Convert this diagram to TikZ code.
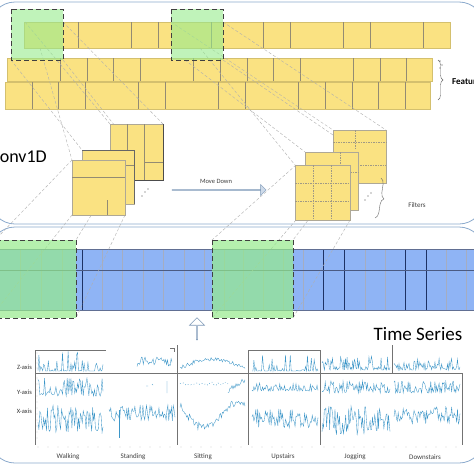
\documentclass[tikz,border=0pt]{standalone}
\usepackage{fontspec}
\setmainfont{Carlito}
\usetikzlibrary{shapes.arrows,decorations.pathreplacing}
\definecolor{cellyellow}{RGB}{250,226,130}
\definecolor{cellline}{RGB}{120,110,80}
\definecolor{boxgreen}{RGB}{150,235,140}
\definecolor{rowblue}{RGB}{143,180,245}
\definecolor{navy}{RGB}{30,50,100}
\definecolor{panel}{RGB}{140,170,205}
\definecolor{wave}{RGB}{60,150,200}
\definecolor{guide}{RGB}{175,175,175}
\begin{document}
\begin{tikzpicture}[x=1pt,y=-1pt,
  yrow/.style={fill=cellyellow,draw=cellyellow!85!black,line width=0.3pt},
  cellsep/.style={draw=cellline!80,line width=0.5pt},
  greenbox/.style={fill=boxgreen,fill opacity=0.6,draw=black!75,dash pattern=on 5pt off 3pt,line width=0.9pt},
  guideline/.style={draw=guide,dash pattern=on 3pt off 2pt,line width=0.4pt},
  panelline/.style={draw=panel,line width=0.8pt},
  wavestyle/.style={draw=wave,line width=0.35pt},
  filt/.style={fill=cellyellow,draw=cellline!60,line width=0.5pt},
  filtdash/.style={draw=cellline!70,dash pattern=on 1.5pt off 1pt,line width=0.4pt},
  frame/.style={draw=black!55,line width=0.5pt},
  smalltxt/.style={font=\fontsize{7}{8}\selectfont,text=black!75,inner sep=0pt},
  axtxt/.style={font=\fontsize{6.5}{7}\selectfont,text=black!80,inner sep=1pt}
]
\useasboundingbox (0,0) rectangle (474,474);
\clip (0,0) rectangle (474,474);
\fill[white] (0,0) rectangle (474,474);

% panels
\draw[panelline,rounded corners=25pt] (-10,2) rectangle (484,224);
\draw[panelline,rounded corners=25pt] (-10,227) rectangle (484,463);

% top feature rows
\filldraw[yrow] (24,22) rectangle (450,48);
\foreach \x in {78,131,158,211,263,290,343,370,423} \draw[cellsep] (\x,22) -- (\x,48);
\filldraw[yrow] (7,58) rectangle (432,81);
\foreach \x in {60,87,113,140,193,220,247,273,300,353,380,406} \draw[cellsep] (\x,58) -- (\x,81);
\filldraw[yrow] (5,82) rectangle (430,109);
\foreach \x in {32,58,85,138,165,218,245,298,325,352,378,405} \draw[cellsep] (\x,82) -- (\x,109);

% features brace
\fill[black!70] (440,61) circle (0.6pt) (442,65) circle (0.6pt) (440,68) circle (0.6pt);
\draw[black!60,decorate,decoration={brace,amplitude=5pt}] (438,60) -- (438,100);
\node[anchor=west,font=\bfseries\fontsize{9}{10}\selectfont,inner sep=0pt] (features) at (452,82) {Features};

% blue time series row
\fill[rowblue] (0,249) rectangle (474,310);
\foreach \x in {20,41,62,102,122,143,163,184,204,224,243,263,283,303,365,385,446,466}
  \draw[navy!40,line width=0.3pt] (\x,249) -- (\x,310);
\foreach \x in {82,323,344,405,426} \draw[navy,line width=0.8pt] (\x,249) -- (\x,310);
\draw[navy!80,line width=0.6pt] (0,270) -- (474,270);
\draw[navy!70,line width=0.7pt] (0,249) -- (474,249) (0,310) -- (474,310);

% guide lines
\draw[guideline] (25,22) -- (110,124);
\draw[guideline] (63,22) -- (163,124);
\draw[guideline] (11,60) -- (82,150);
\draw[guideline] (63,60) -- (134,150);
\draw[guideline] (40,48) -- (72,160);
\draw[guideline] (171,22) -- (333,130);
\draw[guideline] (223,22) -- (386,130);
\draw[guideline] (185,60) -- (305,152);
\draw[guideline] (223,60) -- (358,152);
\draw[guideline] (200,48) -- (295,165);
\draw[guideline] (72,215) -- (-10,318);
\draw[guideline] (125,215) -- (76,318);
\draw[guideline] (72,160) -- (-5,240);
\draw[guideline] (125,160) -- (76,240);
\draw[guideline] (296,165) -- (212,240);
\draw[guideline] (350,165) -- (293,240);
\draw[guideline] (296,220) -- (212,318);
\draw[guideline] (350,220) -- (293,318);

% green windows
\filldraw[greenbox] (11,9) rectangle (63,60);
\filldraw[greenbox] (171,9) rectangle (223,60);
\filldraw[greenbox,fill opacity=0.7] (-5,240) rectangle (76,318);
\filldraw[greenbox,fill opacity=0.7] (212,240) rectangle (293,318);

% Conv1D label
\node[anchor=base east,font=\fontsize{18}{20}\selectfont,inner sep=0pt] (conv) at (47,162) {Conv1D};

% left filter stack
\filldraw[filt] (110,124) rectangle (163,180);
\draw[cellsep] (127,124) -- (127,180) (144,124) -- (144,180) (144,162) -- (163,162);
\draw[black!70,line width=0.8pt] (163,124) -- (163,180) -- (110,180);
\filldraw[filt] (82,150) rectangle (134,204);
\draw[cellsep] (82,165) -- (134,165);
\draw[black!60,line width=0.7pt] (82,150) -- (134,150) -- (134,204);
\filldraw[filt] (72,160) rectangle (125,215);
\draw[cellsep] (72,177) -- (125,177) (107,200) -- (107,215);
\fill[black!70] (142,196) circle (0.6pt) (145,192) circle (0.6pt) (148,189) circle (0.6pt);

% move down arrow
\node[smalltxt,font=\fontsize{6.5}{7}\selectfont] (movetxt) at (216,181) {Move Down};
\node[single arrow,minimum height=94pt,minimum width=11pt,single arrow head extend=3pt,inner sep=0pt,
  left color=white,right color=panel!45,draw=panel!90!black,line width=0.4pt] (mvarrow) at (219,190) {};

% right filter stack
\filldraw[filt] (333,130) rectangle (386,183);
\draw[filtdash] (333,142) -- (386,142) (360,165) -- (386,165) (355,130) -- (355,150);
\filldraw[filt] (305,152) rectangle (358,210);
\draw[filtdash] (305,172) -- (358,172) (340,152) -- (340,172);
\filldraw[filt] (295,165) rectangle (350,220);
\draw[filtdash] (313,165) -- (313,220) (331,165) -- (331,220) (295,183) -- (350,183) (295,201) -- (350,201);
\fill[black!70] (365,200) circle (0.6pt) (368,196) circle (0.6pt) (371,193) circle (0.6pt);
\draw[black!60,decorate,decoration={brace,amplitude=6pt}] (381,178) -- (375,218);
\node[smalltxt] (filters) at (417,205) {Filters};

% up arrow
\node[single arrow,shape border rotate=90,minimum height=22pt,minimum width=15pt,single arrow head extend=3.5pt,
  inner sep=0pt,fill=white,draw=panel!90!black,line width=0.6pt] (uparrow) at (197,329) {};

% Time Series
\node[font=\fontsize{19}{21}\selectfont,inner sep=0pt] (tstitle) at (418,334) {Time Series};

% chart frames
\draw[frame] (35,350) -- (106,350) (35,350) -- (35,445) (35,373) -- (462,373);
\draw[frame] (177,345) -- (177,445) (248,350) -- (320,350) (248,350) -- (248,445) (320,350) -- (320,445);
\draw[frame] (392,345) -- (392,373) (462,373) -- (462,445) (170,348) -- (174,348) -- (174,352);

% axis labels
\node[axtxt,anchor=east] (zax) at (33,367) {Z-axis};
\node[axtxt,anchor=east] (yax) at (33,392) {Y-axis};
\node[axtxt,anchor=east] (xax) at (33,411) {X-axis};

% ticks
\foreach \x in {38,48,58,68,78,88,98,110,120,130,140,150,160,170,181,191,201,211,221,231,241,252,262,272,282,292,302,312,324,334,344,354,364,374,384,396,406,416,426,436,446,456}
  \fill[black!45] (\x,447) circle (0.4pt);
\foreach \y in {353,358,363,368,378,384,390,396,402,408,414,420,426,432,438}
  \fill[black!40] (37,\y) circle (0.35pt);

% waveforms
\pgfmathsetseed{42}
% Z
\draw[wavestyle] plot[domain=38:103,samples=70] (\x,{371-20*rnd^6});
\draw[wavestyle] plot[domain=137:172,samples=40] (\x,{362+5*rand});
\draw[wavestyle] plot[domain=180:245,samples=70] (\x,{370-9*sin((\x-180)*2.8)-4*rnd});
\draw[wavestyle] plot[domain=252:318,samples=70] (\x,{371-18*rnd^7});
\draw[wavestyle] plot[domain=322:390,samples=85] (\x,{370-14*rnd^2});
\draw[wavestyle] plot[domain=394:460,samples=80] (\x,{370-12*rnd^2});
% Y
\draw[wavestyle] plot[domain=38:103,samples=70] (\x,{396-18*rnd^2});
\draw[wavestyle] (167,381) -- (167,393) (146,386) -- (148,386) (152,384) -- (153,385);
\draw[wavestyle,dash pattern=on 1pt off 2pt] plot[domain=180:228,samples=25] (\x,{384+2*rand});
\draw[wavestyle] plot[domain=228:245,samples=18] (\x,{390-10*(\x-228)/17+3*rand});
\draw[wavestyle] plot[domain=252:318,samples=70] (\x,{391-8*rnd^2});
\draw[wavestyle] plot[domain=322:390,samples=85] (\x,{387+6*rand});
\draw[wavestyle] plot[domain=394:460,samples=80] (\x,{393-12*rnd^2});
% X
\draw[wavestyle] plot[domain=38:103,samples=70] (\x,{419+14*rand});
\draw[wavestyle] plot[domain=109:175,samples=75] (\x,{413+8*rand});
\draw[wavestyle] (119,410) -- (119,438);
\draw[wavestyle] plot[domain=180:245,samples=70] (\x,{404+24*sin(min(180,(\x-180)*3.6))+4*rand});
\draw[wavestyle] plot[domain=252:318,samples=70] (\x,{418+10*rand});
\draw[wavestyle] plot[domain=322:390,samples=90] (\x,{420+15*rand});
\draw[wavestyle] plot[domain=394:460,samples=80] (\x,{415+9*rand});

% activity labels
\node[smalltxt] (walk) at (68,457) {Walking};
\node[smalltxt] (stand) at (133,457) {Standing};
\node[smalltxt] (sit) at (203,457) {Sitting};
\node[smalltxt] (up) at (283,457) {Upstairs};
\node[smalltxt] (jog) at (355,457) {Jogging};
\node[smalltxt] (down) at (425,457) {Downstairs};
\end{tikzpicture}
\end{document}
